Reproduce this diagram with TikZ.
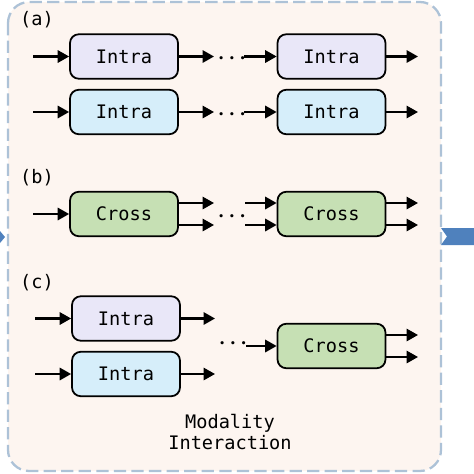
\documentclass[tikz,border=0pt]{standalone}
\usepackage{fontspec}
\setmonofont{DejaVu Sans Mono}
\usetikzlibrary{positioning,calc,arrows.meta}

\definecolor{paper}{HTML}{FDF5F0}
\definecolor{framec}{HTML}{ADC2D7}
\definecolor{intraA}{HTML}{E9E7F8}
\definecolor{intraB}{HTML}{D6EEFA}
\definecolor{crossc}{HTML}{C6E0B4}
\definecolor{pipe}{HTML}{4F81BD}

\tikzset{
	block/.style={draw, line width=1pt, rounded corners=5pt, inner sep=0pt,
		minimum width=2.16cm, minimum height=0.89cm, font=\ttfamily\fontsize{10.6}{12}\selectfont},
	intraa/.style={block, fill=intraA},
	intrab/.style={block, fill=intraB},
	crossb/.style={block, fill=crossc},
	flow/.style={line width=1.2pt, -{Triangle[length=6.5pt, width=7pt]}},
	tag/.style={font=\ttfamily\fontsize{10.6}{12}\selectfont},
	dots/.style={inner sep=0pt, font=\fontsize{12.5}{13}\selectfont\boldmath},
}

\begin{document}
\begin{tikzpicture}[x=0.02cm, y=-0.02cm]
	\useasboundingbox (0, 0) rectangle (474, 474);
	% outer frame
	\draw[framec, fill=paper, line width=1.3pt, dash pattern=on 7pt off 3pt, rounded corners=12pt] (8, 2) rectangle (441, 471);
	\fill[pipe] (0, 231) -- (5, 237) -- (0, 243) -- cycle;
	\fill[pipe] (441, 228) -- (474, 228) -- (474, 245) -- (441, 245) -- (447, 236.5) -- cycle;

	% (a)
	\node[tag] (la) at (37, 20) {(a)};
	\node[intraa] (a1) at (124, 56.5) {Intra};
	\node[intraa] (a2) at (331.5, 56.5) {Intra};
	\node[intrab] (a3) at (124, 112) {Intra};
	\node[intrab] (a4) at (331.5, 112) {Intra};
	\node[dots] (da1) at (232, 59) {$\cdots$};
	\node[dots] (da2) at (232, 115) {$\cdots$};
	\coordinate (ia1) at (33, 56.5);
	\coordinate (ia3) at (33, 112);
	\coordinate (oa1) at (214, 56.5);
	\coordinate (oa3) at (214, 112);
	\coordinate (ia2) at (244, 56.5);
	\coordinate (ia4) at (244, 112);
	\coordinate (oa2) at (418, 56.5);
	\coordinate (oa4) at (418, 112);
	\draw[flow] (ia1) -- (a1);
	\draw[flow] (ia3) -- (a3);
	\draw[flow] (a1) -- (oa1);
	\draw[flow] (a3) -- (oa3);
	\draw[flow] (ia2) -- (a2);
	\draw[flow] (ia4) -- (a4);
	\draw[flow] (a2) -- (oa2);
	\draw[flow] (a4) -- (oa4);

	% (b)
	\node[tag] (lb) at (37, 178) {(b)};
	\node[crossb] (b1) at (124, 214) {Cross};
	\node[crossb] (b2) at (331.5, 214) {Cross};
	\node[dots] (db) at (232, 217) {$\cdots$};
	\coordinate (ib1) at (33, 214);
	\draw[flow] (ib1) -- (b1);
	\foreach \dy in {-11, 11} {
		\draw[flow] ($(b1.east)+(0,\dy)$) -- (214, 214+\dy);
		\draw[flow] (245, 214+\dy) -- ($(b2.west)+(0,\dy)$);
		\draw[flow] ($(b2.east)+(0,\dy)$) -- (418, 214+\dy);
	}

	% (c)
	\node[tag] (lc) at (37, 283) {(c)};
	\node[intraa] (c1) at (126, 318.5) {Intra};
	\node[intrab] (c2) at (126, 374) {Intra};
	\node[crossb] (c3) at (331.5, 346) {Cross};
	\node[dots] (dc) at (233, 344) {$\cdots$};
	\coordinate (ic1) at (35, 318.5);
	\coordinate (ic2) at (35, 374);
	\coordinate (oc1) at (215, 318.5);
	\coordinate (oc2) at (215, 374);
	\coordinate (ic3) at (246, 346);
	\draw[flow] (ic1) -- (c1);
	\draw[flow] (ic2) -- (c2);
	\draw[flow] (c1) -- (oc1);
	\draw[flow] (c2) -- (oc2);
	\draw[flow] (ic3) -- (c3);
	\foreach \dy in {-11, 11} {
		\draw[flow] ($(c3.east)+(0,\dy)$) -- (418, 346+\dy);
	}

	\node[tag, align=center] (cap) at (230, 432) {Modality\\Interaction};
\end{tikzpicture}
\end{document}
